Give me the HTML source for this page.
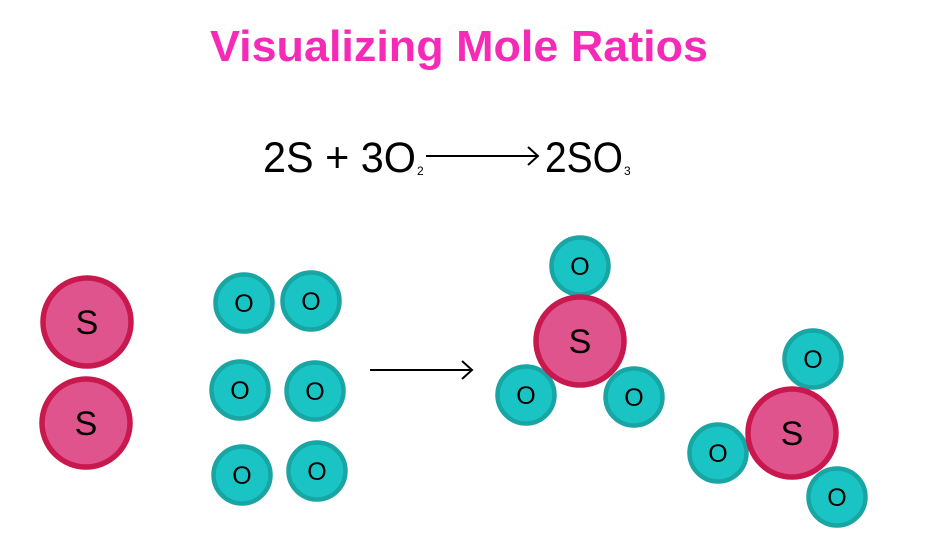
<!DOCTYPE html>
<html><head><style>html,body{margin:0;padding:0;background:#fff;}svg{display:block}</style></head>
<body>
<svg width="932" height="559" viewBox="0 0 932 559" xmlns="http://www.w3.org/2000/svg" font-family="Liberation Sans, sans-serif">
<defs>
<g id="S"><circle r="44" fill="#e0548e" stroke="#c8184e" stroke-width="5.5"/><text y="12" text-anchor="middle" font-size="34" fill="#000">S</text></g>
<g id="O"><circle r="28.5" fill="#1bc4c4" stroke="#18a5a3" stroke-width="4.5"/><text y="9" text-anchor="middle" font-size="25" fill="#000">O</text></g>
</defs>
<text x="459" y="61" text-anchor="middle" font-size="44" font-weight="bold" fill="#f52ab6" textLength="498" lengthAdjust="spacingAndGlyphs">Visualizing Mole Ratios</text>
<text x="263" y="172" font-size="43" fill="#000" textLength="153" lengthAdjust="spacingAndGlyphs">2S + 3O</text>
<text x="417" y="175" font-size="12" fill="#000">2</text>
<line x1="426" y1="156" x2="538" y2="156" stroke="#000" stroke-width="2"/>
<polyline points="528,147 538,156 528,165" fill="none" stroke="#000" stroke-width="2"/>
<text x="545" y="172" font-size="43" fill="#000" textLength="78" lengthAdjust="spacingAndGlyphs">2SO</text>
<text x="624" y="175" font-size="12" fill="#000">3</text>
<use href="#S" x="87" y="322"/>
<use href="#S" x="86" y="423"/>
<use href="#O" x="244" y="303"/>
<use href="#O" x="311" y="301"/>
<use href="#O" x="240" y="390"/>
<use href="#O" x="315" y="391"/>
<use href="#O" x="242" y="475"/>
<use href="#O" x="317" y="471"/>
<line x1="370" y1="370" x2="472" y2="370" stroke="#000" stroke-width="2"/>
<polyline points="462,361 472,370 462,379" fill="none" stroke="#000" stroke-width="2"/>
<use href="#O" x="580" y="266"/>
<use href="#O" x="526" y="395"/>
<use href="#O" x="634" y="397"/>
<use href="#S" x="580" y="341"/>
<use href="#O" x="813" y="359"/>
<use href="#O" x="718" y="453"/>
<use href="#O" x="837" y="497"/>
<use href="#S" x="792" y="433"/>
</svg>
</body></html>
